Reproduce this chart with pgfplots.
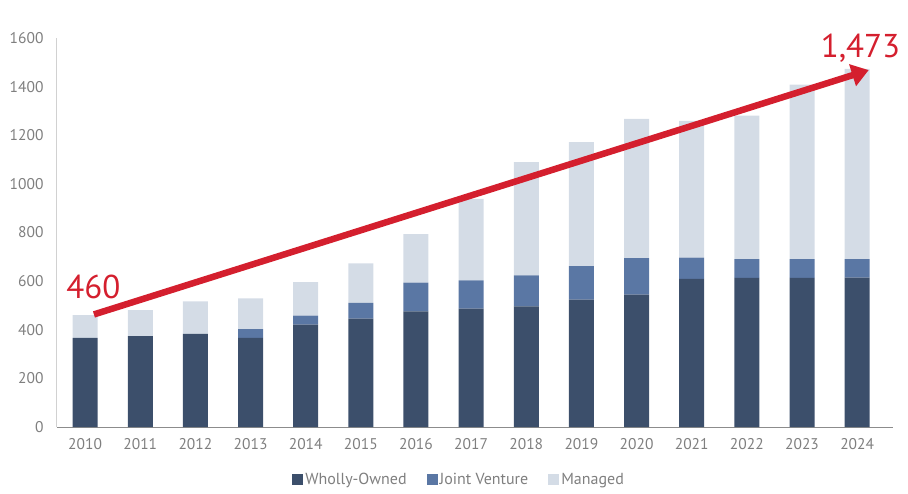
\documentclass[border=0pt]{standalone}
\usepackage{fontspec}
\setmainfont{PT Sans}
\usepackage{pgfplots}
\pgfplotsset{compat=1.18}
\usetikzlibrary{arrows.meta}

\definecolor{wo}{HTML}{3C4F6B}
\definecolor{jv}{HTML}{5A77A4}
\definecolor{mg}{HTML}{D4DCE6}
\definecolor{arrowred}{HTML}{D41F2E}
\definecolor{txt}{HTML}{7F7F7F}

\pgfplotsset{
  frame/.style = {
    at = {(57pt,66pt)}, anchor = south west,
    scale only axis, width = 836pt, height = 389pt,
    xmin = 2009.49, xmax = 2024.65,
    ymin = 0, ymax = 1600,
    clip = false,
  },
}

\begin{document}
\begin{tikzpicture}
\useasboundingbox (0,0) rectangle (908pt,493pt);

\begin{axis}[
  frame,
  ybar stacked, bar width = 25pt,
  xtick = data,
  ytick = {0,200,...,1600},
  axis x line* = bottom, axis y line* = left,
  x axis line style = {draw = black!45, line width = 1pt, -},
  y axis line style = {draw = black!18, line width = 1pt, -},
  major tick length = 0pt,
  tick label style = {font = \fontsize{15.5}{18}\selectfont, text = txt},
  xticklabel style = {yshift = -8pt},
  yticklabel style = {xshift = -10pt},
  /pgf/number format/assume math mode = true,
  /pgf/number format/1000 sep = {},
  legend image code/.code = {\fill[#1] (0pt,-5pt) rectangle (11pt,6pt);},
  legend style = {
    at = {(0.481,-0.135)}, anchor = center,
    legend columns = -1, draw = none, fill = none,
    font = \fontsize{16}{19}\selectfont, text = txt,
    /tikz/every even column/.append style = {column sep = 18pt},
  },
]
  % Wholly-Owned
  \addplot[fill = wo, draw = none] coordinates {
    (2010,367) (2011,374) (2012,383) (2013,367) (2014,421)
    (2015,446) (2016,476) (2017,487) (2018,496) (2019,524)
    (2020,544) (2021,609) (2022,613) (2023,613) (2024,614) };
  % Joint Venture
  \addplot[fill = jv, draw = none] coordinates {
    (2010,0) (2011,0) (2012,0) (2013,36) (2014,37)
    (2015,65) (2016,118) (2017,116) (2018,128) (2019,138)
    (2020,151) (2021,88) (2022,77) (2023,77) (2024,77) };
  % Managed
  \addplot[fill = mg, draw = none] coordinates {
    (2010,93) (2011,107) (2012,134) (2013,126) (2014,138)
    (2015,162) (2016,199) (2017,335) (2018,465) (2019,510)
    (2020,572) (2021,562) (2022,591) (2023,718) (2024,782) };
  \legend{Wholly-Owned, Joint Venture, Managed}
\end{axis}

% growth arrow on top of the bars
\begin{axis}[frame, hide axis]
  \addplot[arrowred, line width = 6.5pt, -{Triangle[length = 17pt, width = 22pt]}]
    coordinates { (2010.16,463) (2024.21,1468) };
  \node[text = arrowred, font = \fontsize{33}{38}\selectfont]
    at (axis cs:2010.15,576) {460};
  \node[text = arrowred, font = \fontsize{33}{38}\selectfont]
    at (axis cs:2024.06,1559) {1,473};
\end{axis}
\end{tikzpicture}
\end{document}
